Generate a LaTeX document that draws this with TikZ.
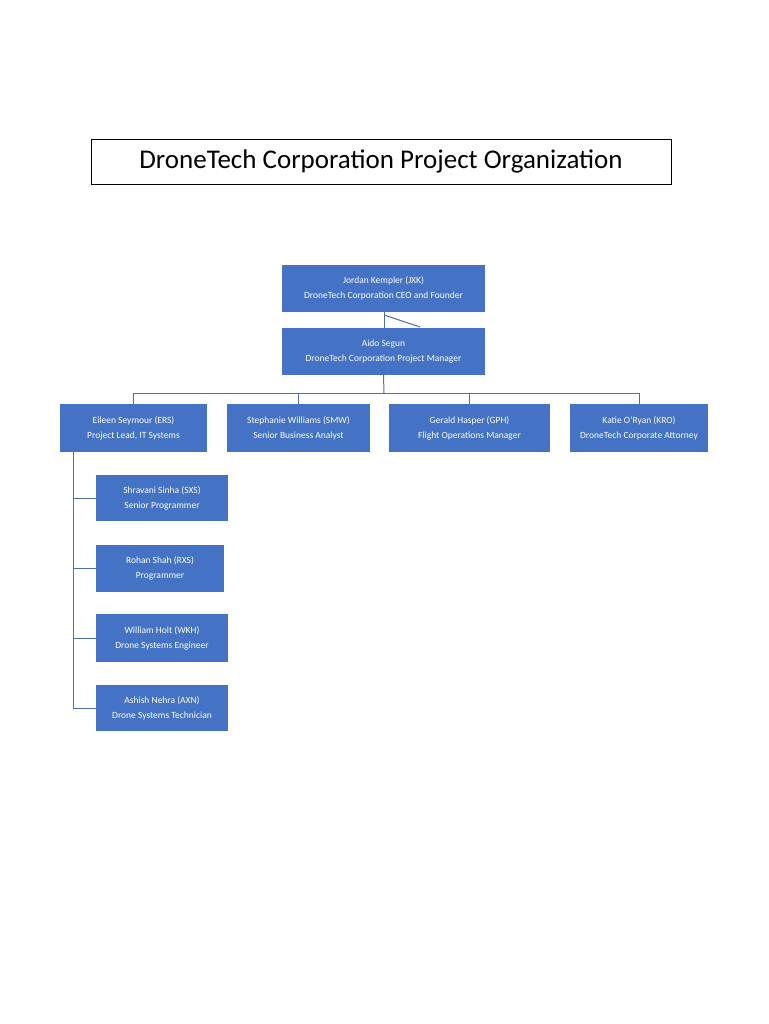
\documentclass[tikz,border=0pt]{standalone}
\usepackage{fontspec}
\setmainfont{Carlito}
\begin{document}
\begin{tikzpicture}[x=1pt,y=-1pt,
  box/.style={draw=none,fill={rgb,255:red,68;green,114;blue,196},text=white,font=\fontsize{9.5}{15}\selectfont,align=center,inner sep=0pt},
  conn/.style={draw={rgb,255:red,80;green,110;blue,170},line width=1pt}]
\useasboundingbox (0,0) rectangle (768,1024);
\fill[white] (0,0) rectangle (768,1024);
\node[draw=black,line width=0.8pt,minimum width=580pt,minimum height=45pt,font=\fontsize{27}{30}\selectfont] (title) at (381,161.5) {DroneTech Corporation Project Organization};
\newcommand{\bx}[6]{\node[box,minimum width=#3pt,minimum height=#4pt] (#5) at (#1,#2) {#6};}
\bx{383.5}{288.5}{203}{47}{jxk}{Jordan Kempler (JXK)\\DroneTech Corporation CEO and Founder}
\bx{383.5}{351.5}{203}{47}{aido}{Aido Segun\\DroneTech Corporation Project Manager}
\bx{133.5}{428}{147}{48}{ers}{Eileen Seymour (ERS)\\Project Lead, IT Systems}
\bx{298.5}{428}{143}{48}{smw}{Stephanie Williams (SMW)\\Senior Business Analyst}
\bx{469.5}{428}{161}{48}{gph}{Gerald Hasper (GPH)\\Flight Operations Manager}
\bx{639}{428}{138}{48}{kro}{Katie O'Ryan (KRO)\\DroneTech Corporate Attorney}
\bx{162}{498}{132}{46}{sxs}{Shravani Sinha (SXS)\\Senior Programmer}
\bx{160}{568.5}{128}{47}{rxs}{Rohan Shah (RXS)\\Programmer}
\bx{162}{638}{132}{48}{wkh}{William Holt (WKH)\\Drone Systems Engineer}
\bx{162}{708}{132}{46}{axn}{Ashish Nehra (AXN)\\Drone Systems Technician}
\coordinate (j1) at (384,315);
\draw[conn] (384,312) -- (384,328);
\draw[conn] (j1) -- (420,327);
\coordinate (hb) at (384,393);
\draw[conn] (aido.south) -- (hb);
\draw[conn] (133,393) -- (639,393);
\foreach \n in {ers,smw,gph,kro} \draw[conn] (\n.north) -- (\n.north |- hb);
\coordinate (vb) at (73,452);
\draw[conn] (vb) -- (73,708);
\foreach \n in {sxs,rxs,wkh,axn} \draw[conn] (\n.west) -- (73,0 |- \n.west);
\end{tikzpicture}
\end{document}
